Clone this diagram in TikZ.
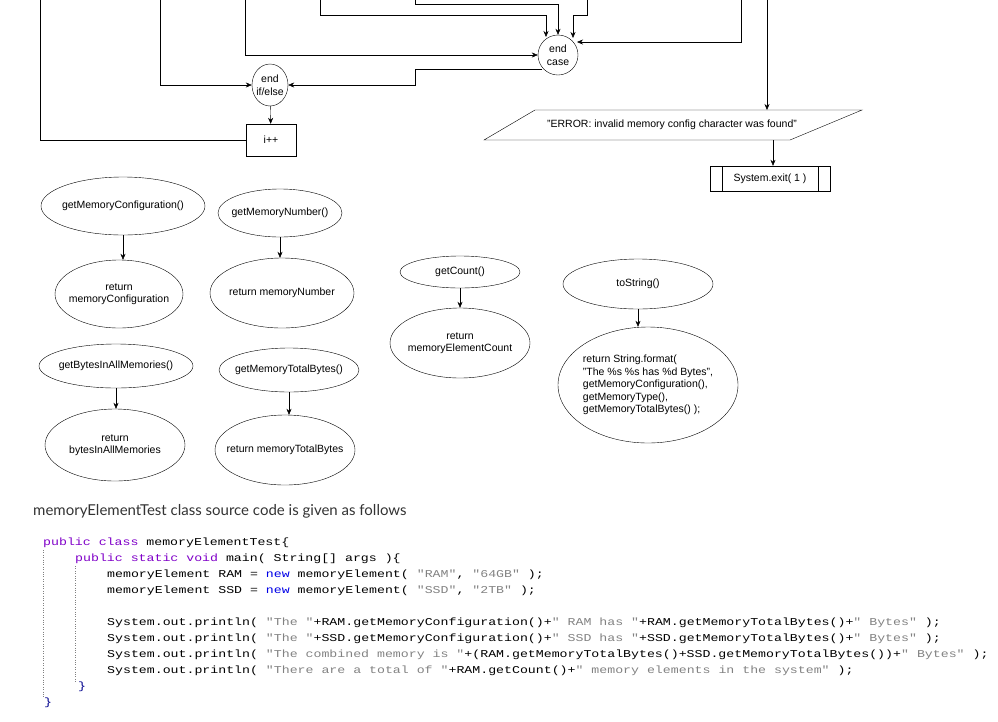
\documentclass[tikz,border=0pt]{standalone}
\usepackage{fontspec}
\setmainfont{Liberation Sans}
\newfontfamily\codef{Liberation Mono}[FakeStretch=1.26]
\newfontfamily\capf{Lato}
\usetikzlibrary{shapes.geometric,arrows.meta}
\definecolor{kw}{RGB}{127,0,200}
\definecolor{nw}{RGB}{0,0,230}
\definecolor{st}{RGB}{130,130,130}
\definecolor{br}{RGB}{0,0,140}
\begin{document}
\begin{tikzpicture}[x=1pt,y=-1pt,
 el/.style={draw,ellipse,inner sep=-20pt,align=center,font=\fontsize{10.5}{12.5}\selectfont},
 ar/.style={-{Stealth[length=6pt,width=5pt]}},
 code/.style={anchor=west,inner sep=0pt,font=\codef\fontsize{10.5}{12}\selectfont}]
\useasboundingbox (0,0) rectangle (998,721);
\tikzset{every node/.append style={font=\fontsize{10.5}{12.5}\selectfont}}
% top flow
\node[el,minimum width=36,minimum height=42] (eif) at (270,85) {end\\if/else};
\node[el,minimum width=40,minimum height=40] (ec) at (558,55) {end\\case};
\node[draw,minimum width=50,minimum height=32,inner sep=0] (ipp) at (271,140) {i++};
\coordinate (a1) at (40,0); \coordinate (a2) at (160,0); \coordinate (a3) at (245,0);
\coordinate (a4) at (320,0); \coordinate (a5) at (415,0); \coordinate (a6) at (587,0);
\coordinate (a7) at (741,0); \coordinate (a8) at (767,0);
\draw (ipp.west) -| (a1);
\draw[ar] (a2) |- (eif.west);
\draw[ar] (eif) -- (ipp);
\draw[ar] (542,69) -| (415,85) -- (eif.east);
\draw[ar] (a3) |- (ec.west);
\draw[ar] (a4) |- (546,15) -- (546,37);
\draw[ar] (a5) |- (558,4) -- (ec.north);
\draw[ar] (a6) |- (573,15) -- (573,38);
\draw[ar] (a7) |- (577,42);
\draw (484,140) -- (535,110) -- (862,110) -- (790,140) -- cycle;
\node (err) at (672,125) {"ERROR: invalid memory config character was found"};
\node[draw,minimum width=120,minimum height=25,inner sep=0] (ex) at (770,178.5) {System.exit( 1 )};
\draw (722,166) -- (722,191) (818,166) -- (818,191);
\draw[ar] (a8) -- (767,110);
\draw[ar] (773,140) -- (ex.north-|773,0);
% method ellipses
\node[el,minimum width=164,minimum height=58] (g1) at (123,206) {getMemoryConfiguration()};
\node[el,minimum width=128,minimum height=68] (r1) at (119,294) {return\\memoryConfiguration};
\node[el,minimum width=124,minimum height=48] (g2) at (280,213) {getMemoryNumber()};
\node[el,minimum width=144,minimum height=70] (r2) at (282,293) {return memoryNumber};
\node[el,minimum width=154,minimum height=44] (g3) at (116,366) {getBytesInAllMemories()};
\node[el,minimum width=140,minimum height=72] (r3) at (115,445) {return\\bytesInAllMemories};
\node[el,minimum width=140,minimum height=44] (g4) at (289,370) {getMemoryTotalBytes()};
\node[el,minimum width=140,minimum height=70] (r4) at (285,450) {return memoryTotalBytes};
\node[el,minimum width=120,minimum height=32] (g5) at (460,272) {getCount()};
\node[el,minimum width=140,minimum height=70] (r5) at (460,343) {return\\memoryElementCount};
\node[el,minimum width=150,minimum height=50] (g6) at (638,284) {toString()};
\node[el,minimum width=180,minimum height=116,align=left] (r6) at (648,385) {return String.format(\\"The \%s \%s has \%d Bytes",\\getMemoryConfiguration(),\\getMemoryType(),\\getMemoryTotalBytes() );};
\foreach \a/\b in {g1/r1,g2/r2,g3/r3,g4/r4,g5/r5,g6/r6} \draw[ar] (\a.south) -- (\a.south|-\b.north);
% caption
\node[anchor=west,inner sep=0,font=\capf\fontsize{15}{17}\selectfont,text=black!80] (cap) at (33,511) {memoryElementTest class source code is given as follows};
% code
\draw[dotted,gray] (43,550) -- (43,698) (75,566) -- (75,682);
\node[code] (c1) at (43,543) {\textcolor{kw}{public class} memoryElementTest\{};
\node[code] (c2) at (75,559) {\textcolor{kw}{public static void} main( String[] args )\{};
\node[code] (c3) at (107,575) {memoryElement RAM = \textcolor{nw}{new} memoryElement( \textcolor{st}{"RAM"}, \textcolor{st}{"64GB"} );};
\node[code] (c4) at (107,591) {memoryElement SSD = \textcolor{nw}{new} memoryElement( \textcolor{st}{"SSD"}, \textcolor{st}{"2TB"} );};
\node[code] (c5) at (107,623) {System.out.println( \textcolor{st}{"The "}+RAM.getMemoryConfiguration()+\textcolor{st}{" RAM has "}+RAM.getMemoryTotalBytes()+\textcolor{st}{" Bytes"} );};
\node[code] (c6) at (107,639) {System.out.println( \textcolor{st}{"The "}+SSD.getMemoryConfiguration()+\textcolor{st}{" SSD has "}+SSD.getMemoryTotalBytes()+\textcolor{st}{" Bytes"} );};
\node[code] (c7) at (107,655) {System.out.println( \textcolor{st}{"The combined memory is "}+(RAM.getMemoryTotalBytes()+SSD.getMemoryTotalBytes())+\textcolor{st}{" Bytes"} );};
\node[code] (c8) at (107,671) {System.out.println( \textcolor{st}{"There are a total of "}+RAM.getCount()+\textcolor{st}{" memory elements in the system"} );};
\node[code,text=br] (c9) at (78,687) {\}};
\node[code,text=br] (c10) at (44,703) {\}};
\end{tikzpicture}
\end{document}
